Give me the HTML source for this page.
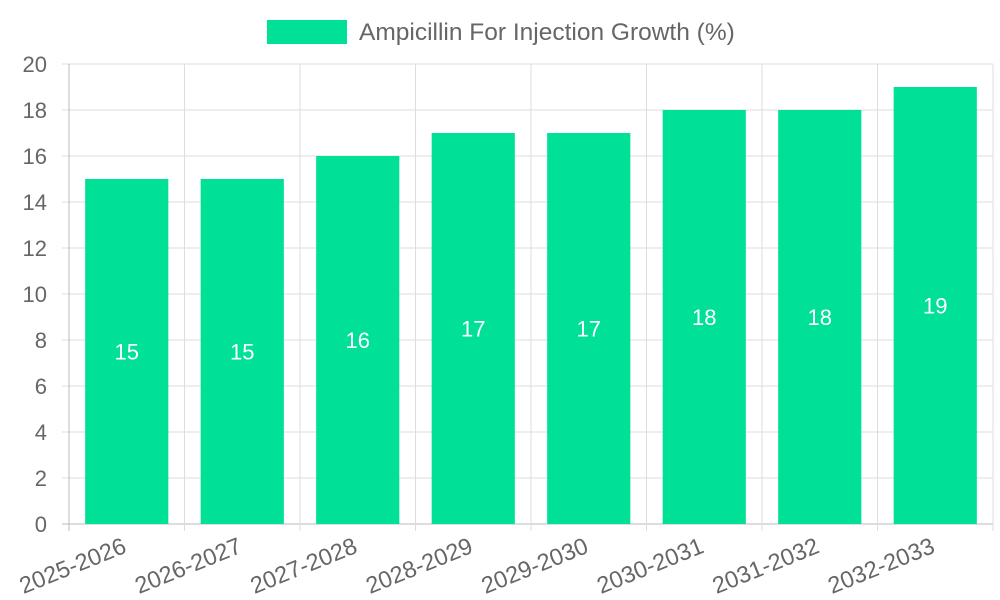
<!DOCTYPE html>
<html><head><meta charset="utf-8"><style>
body{margin:0;background:#fff;}
svg{display:block;font-family:"Liberation Sans",sans-serif;}
</style></head><body>
<svg id="chart" width="1000" height="600">
<g id="legend">
<rect x="267" y="20" width="80" height="24" fill="#00e096"></rect>
<text x="359" y="40" font-size="24.5" fill="#666">Ampicillin For Injection Growth (%)</text>
</g>
<g id="grid"></g><g id="bars"></g><g id="labels"></g>
</svg>
<script>
const categories=["2025-2026","2026-2027","2027-2028","2028-2029","2029-2030","2030-2031","2031-2032","2032-2033"];
const values=[15,15,16,17,17,18,18,19];
const yTicks=[0,2,4,6,8,10,12,14,16,18,20];
const L=69,R=993,T=64,B=524,yMax=20;
const NS="http://www.w3.org/2000/svg";
const bw=(R-L)/categories.length;
function y(v){return B-(v/yMax)*(B-T);}
function x(i){return L+i*bw;}
function mk(tag,attrs,parent,txt){const e=document.createElementNS(NS,tag);for(const k in attrs)e.setAttribute(k,attrs[k]);if(txt!==undefined)e.textContent=txt;parent.appendChild(e);return e;}
const grid=document.getElementById('grid'),bars=document.getElementById('bars'),labels=document.getElementById('labels');
yTicks.forEach(t=>{
  const l=mk('line',{x1:L-7,x2:R,y1:y(t),y2:y(t),stroke:t===0?'#bbb':'#ddd','stroke-width':1},grid);
  
  
  const tx=mk('text',{x:47,y:y(t)+8,'text-anchor':'end','font-size':22,fill:'#666'},labels,String(t));
  
  
});
for(let i=0;i<=categories.length;i++){
  const l=mk('line',{x1:x(i),x2:x(i),y1:T,y2:B+7,stroke:i===0?'#bbb':'#ddd','stroke-width':1},grid);
  
  
}
categories.forEach((c,i)=>{
  const w=bw*0.72,cx=x(i)+bw/2;
  const r=mk('rect',{x:cx-w/2,y:y(values[i]),width:w,height:B-y(values[i]),fill:'#00e096'},bars);
  
  
  const v=mk('text',{x:cx,y:(y(values[i])+B)/2+8,'text-anchor':'middle','font-size':22,fill:'#fff'},labels,String(values[i]));
  
  
  const tl=mk('text',{x:cx+1,y:552,'text-anchor':'end','font-size':23.5,fill:'#666',transform:`rotate(-22 ${cx+1} 552)`},labels,c);
  
  
});
</script>
</body></html>
